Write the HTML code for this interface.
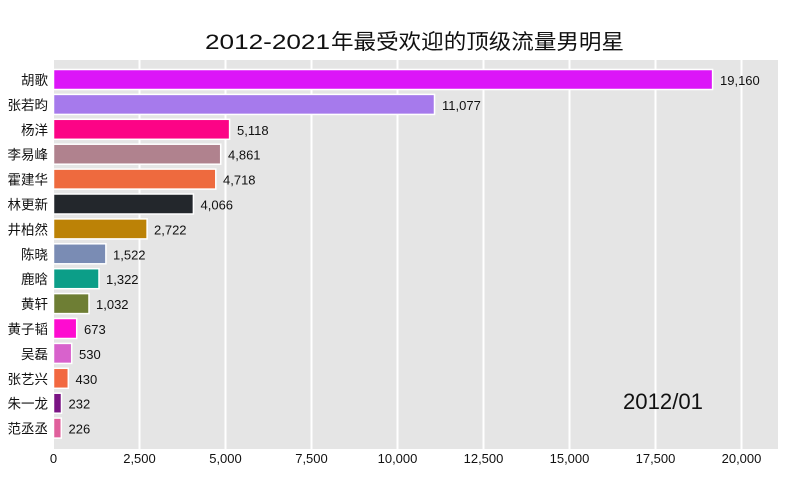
<!DOCTYPE html>
<html><head><meta charset="utf-8">
<style>
html,body{margin:0;padding:0;background:#fff;}
svg{display:block;}
.cjk{font-family:"Liberation Sans","Noto Sans CJK SC",sans-serif;}
.num{font-family:"Liberation Sans","Noto Sans CJK SC",sans-serif;}
</style></head>
<body>
<svg width="806" height="504" viewBox="0 0 806 504" xmlns="http://www.w3.org/2000/svg">
<rect x="0" y="0" width="806" height="504" fill="#ffffff"/>
<!-- plot bg -->
<rect x="54" y="60" width="724" height="389" fill="#e5e5e5"/>
<!-- gridlines -->
<g stroke="#ffffff" stroke-width="2">
<line x1="139.5" y1="60" x2="139.5" y2="449"/>
<line x1="225.5" y1="60" x2="225.5" y2="449"/>
<line x1="311.5" y1="60" x2="311.5" y2="449"/>
<line x1="397.5" y1="60" x2="397.5" y2="449"/>
<line x1="483.5" y1="60" x2="483.5" y2="449"/>
<line x1="569.5" y1="60" x2="569.5" y2="449"/>
<line x1="655.5" y1="60" x2="655.5" y2="449"/>
<line x1="741.5" y1="60" x2="741.5" y2="449"/>
</g>
<!-- title -->
<text x="205" y="49" font-size="21" class="num" textLength="125" lengthAdjust="spacingAndGlyphs" fill="#111">2012-2021</text>
<text x="331" y="49" font-size="21" class="cjk" textLength="293" lengthAdjust="spacingAndGlyphs" fill="#111">年最受欢迎的顶级流量男明星</text>
<!-- bars -->
<g stroke="#ffffff" stroke-width="1.5">
<rect x="53.5" y="69.5" width="659.1" height="20" fill="#dc16f8"/>
<rect x="53.5" y="94.4" width="381.0" height="20" fill="#a67aec"/>
<rect x="53.5" y="119.3" width="176.1" height="20" fill="#fc0486"/>
<rect x="53.5" y="144.2" width="167.2" height="20" fill="#b0828e"/>
<rect x="53.5" y="169.1" width="162.3" height="20" fill="#ee6a3e"/>
<rect x="53.5" y="194.0" width="139.9" height="20" fill="#23272c"/>
<rect x="53.5" y="218.9" width="93.6" height="20" fill="#bc8206"/>
<rect x="53.5" y="243.8" width="52.4" height="20" fill="#7a8cb4"/>
<rect x="53.5" y="268.7" width="45.5" height="20" fill="#0c9e88"/>
<rect x="53.5" y="293.6" width="35.5" height="20" fill="#6e7e34"/>
<rect x="53.5" y="318.5" width="23.2" height="20" fill="#fe0cd0"/>
<rect x="53.5" y="343.4" width="18.2" height="20" fill="#d862cc"/>
<rect x="53.5" y="368.3" width="14.8" height="20" fill="#f26840"/>
<rect x="53.5" y="393.2" width="8.0" height="20" fill="#7a1484"/>
<rect x="53.5" y="418.1" width="7.8" height="20" fill="#e0609c"/>
</g>
<!-- y labels -->
<g class="cjk" font-size="13.5" fill="#111" text-anchor="end">
<text x="48" y="85">胡歌</text>
<text x="48" y="109.9">张若昀</text>
<text x="48" y="134.8">杨洋</text>
<text x="48" y="159.7">李易峰</text>
<text x="48" y="184.6">霍建华</text>
<text x="48" y="209.5">林更新</text>
<text x="48" y="234.4">井柏然</text>
<text x="48" y="259.3">陈晓</text>
<text x="48" y="284.2">鹿晗</text>
<text x="48" y="309.1">黄轩</text>
<text x="48" y="334">黄子韬</text>
<text x="48" y="358.9">吴磊</text>
<text x="48" y="383.8">张艺兴</text>
<text x="48" y="408.7">朱一龙</text>
<text x="48" y="433.6">范丞丞</text>
</g>
<!-- value labels -->
<g class="num" font-size="13" fill="#111">
<text x="720" y="85">19,160</text>
<text x="442" y="109.9">11,077</text>
<text x="237" y="134.8">5,118</text>
<text x="228" y="159.7">4,861</text>
<text x="223" y="184.6">4,718</text>
<text x="200.5" y="209.5">4,066</text>
<text x="154" y="234.4">2,722</text>
<text x="113" y="259.3">1,522</text>
<text x="106" y="284.2">1,322</text>
<text x="96" y="309.1">1,032</text>
<text x="84" y="334">673</text>
<text x="79" y="358.9">530</text>
<text x="75.5" y="383.8">430</text>
<text x="68.5" y="408.7">232</text>
<text x="68.5" y="433.6">226</text>
</g>
<!-- x tick labels -->
<g class="num" font-size="13" fill="#111" text-anchor="middle">
<text x="53.5" y="463">0</text>
<text x="139.5" y="463">2,500</text>
<text x="225.5" y="463">5,000</text>
<text x="311.5" y="463">7,500</text>
<text x="397.5" y="463">10,000</text>
<text x="483.5" y="463">12,500</text>
<text x="569.5" y="463">15,000</text>
<text x="655.5" y="463">17,500</text>
<text x="741.5" y="463">20,000</text>
</g>
<!-- date -->
<text x="623" y="409" font-size="22" class="num" fill="#111" textLength="80" lengthAdjust="spacingAndGlyphs">2012/01</text>
</svg>
</body></html>
